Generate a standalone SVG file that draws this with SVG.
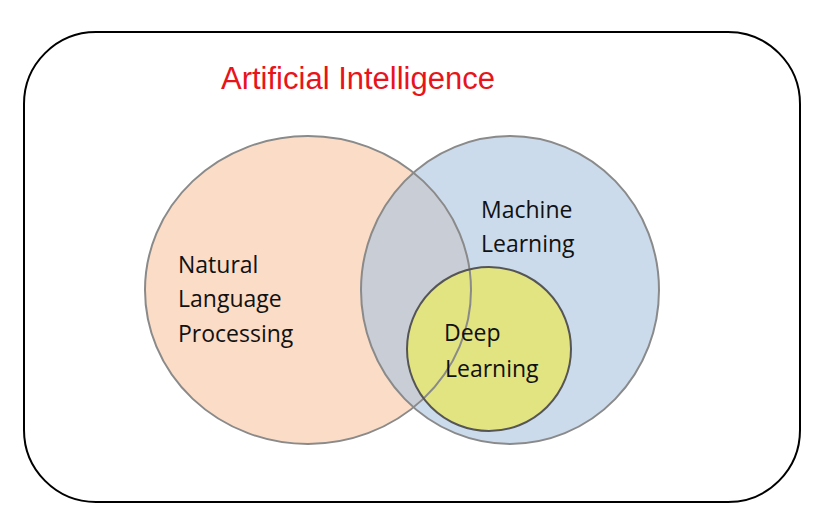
<svg xmlns="http://www.w3.org/2000/svg" width="828" height="532" viewBox="0 0 828 532">
<style>
.lbl{font-family:"Open Sans","Liberation Sans",sans-serif;font-size:23px;font-weight:500;fill:#111}
.ol{fill:none;stroke:#8a8a8a;stroke-width:2}
</style>
<rect x="0" y="0" width="828" height="532" fill="#fff"/>
<rect x="24" y="32" width="776" height="470" rx="72" fill="#fff" stroke="#000" stroke-width="2"/>
<text x="221" y="89" font-family="Liberation Sans, sans-serif" font-size="31" fill="#e8141c">Artificial Intelligence</text>
<g id="nlp"><ellipse cx="308" cy="290" rx="163" ry="154" fill="#fbdcc6"/></g>
<g id="ml"><ellipse cx="510" cy="290" rx="149" ry="154" fill="#a9c3e0" fill-opacity="0.6"/></g>
<g id="dl"><circle cx="489" cy="349" r="82" fill="#e3e57c" fill-opacity="0.95"/></g>
<g id="outlines">
<ellipse class="ol" cx="308" cy="290" rx="163" ry="154"/>
<ellipse class="ol" cx="510" cy="290" rx="149" ry="154"/>
<circle cx="489" cy="349" r="82" fill="none" stroke="#555" stroke-width="2"/>
</g>
<g id="labels">
<text class="lbl" x="178" y="273">Natural</text>
<text class="lbl" x="178" y="307">Language</text>
<text class="lbl" x="178" y="342">Processing</text>
<text class="lbl" x="481" y="218">Machine</text>
<text class="lbl" x="481" y="252">Learning</text>
<text class="lbl" x="444" y="341">Deep</text>
<text class="lbl" x="445" y="377">Learning</text>
</g>
</svg>
